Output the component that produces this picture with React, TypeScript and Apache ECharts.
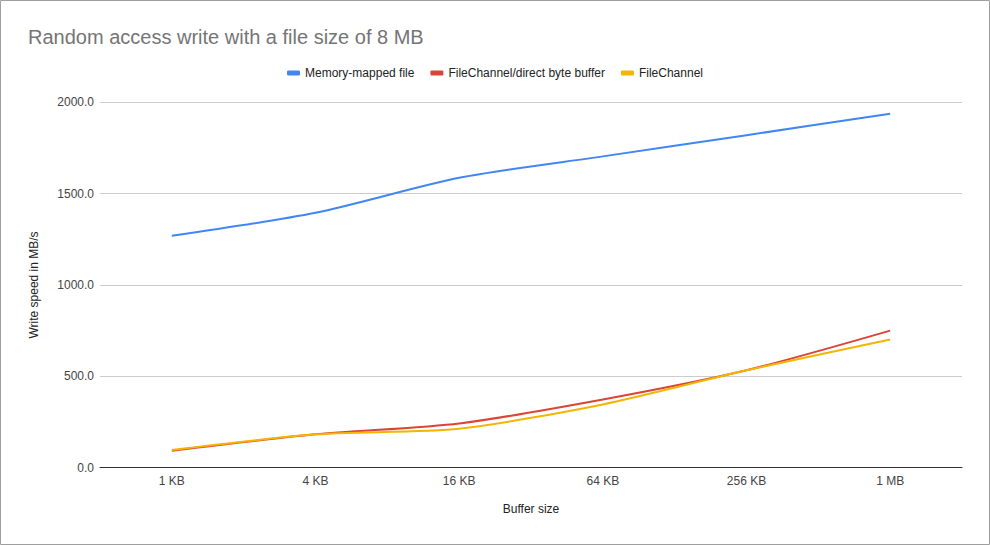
import React, { useEffect, useRef } from "react";
import * as echarts from "echarts";

const categories = ["1 KB", "4 KB", "16 KB", "64 KB", "256 KB", "1 MB"];
const memoryMapped = [1269, 1395, 1587, 1704, 1820, 1937];
const fileChannelDirect = [92, 182, 242, 373, 533, 750];
const fileChannel = [97, 182, 213, 346, 533, 701];
const seriesNames = ["Memory-mapped file", "FileChannel/direct byte buffer", "FileChannel"];
const seriesColors = ["#4285F4", "#DB4437", "#F4B400"];

export default function App() {
  const ref = useRef<HTMLDivElement>(null);
  useEffect(() => {
    if (!ref.current) return;
    const chart = echarts.init(ref.current, undefined, { renderer: "svg" });
    const data = [memoryMapped, fileChannelDirect, fileChannel];
    chart.setOption({
      animation: false,
      backgroundColor: "#ffffff",
      title: {
        text: "Random access write with a file size of 8 MB",
        left: 28,
        top: 27,
        padding: 0,
        textStyle: { fontFamily: "Liberation Sans, Arial", fontSize: 20, fontWeight: "normal", color: "#757575" },
      },
      legend: {
        top: 62,
        left: "center",
        itemWidth: 13,
        itemHeight: 5,
        itemGap: 16,
        icon: "roundRect",
        textStyle: { fontFamily: "Liberation Sans, Arial", fontSize: 12, color: "#222" },
        data: seriesNames,
      },
      grid: { left: 100, right: 28, top: 102.3, bottom: 77.4, containLabel: false },
      xAxis: {
        type: "category",
        data: categories,
        boundaryGap: true,
        name: "Buffer size",
        nameLocation: "middle",
        nameGap: 35,
        nameTextStyle: { fontFamily: "Liberation Sans, Arial", fontSize: 12, color: "#222" },
        axisLine: { lineStyle: { color: "#333", width: 1 } },
        axisTick: { show: false },
        axisLabel: { fontFamily: "Liberation Sans, Arial", fontSize: 12, color: "#444", margin: 7 },
      },
      yAxis: {
        type: "value",
        min: 0,
        max: 2000,
        interval: 500,
        name: "Write speed in MB/s",
        nameLocation: "middle",
        nameGap: 60,
        nameTextStyle: { fontFamily: "Liberation Sans, Arial", fontSize: 12, color: "#222" },
        axisLine: { show: false },
        axisTick: { show: false },
        splitLine: { lineStyle: { color: "#cccccc", width: 1 } },
        axisLabel: {
          fontFamily: "Liberation Sans, Arial",
          fontSize: 12,
          color: "#444",
          margin: 6,
          formatter: (v: number) => v.toFixed(1),
        },
      },
      series: seriesNames.map((name, i) => ({
        name,
        type: "line",
        data: data[i],
        smooth: 0.25,
        showSymbol: false,
        symbol: "none",
        lineStyle: { color: seriesColors[i], width: 2 },
        itemStyle: { color: seriesColors[i] },
      })),
      graphic: [
        {
          type: "rect",
          shape: { x: 0.5, y: 0.5, width: 989, height: 544 },
          style: { fill: "none", stroke: "#9e9e9e", lineWidth: 1 },
          silent: true,
        },
      ],
    });
    return () => chart.dispose();
  }, []);
  return (
    <div
      ref={ref}
      style={{ position: "absolute", left: 0, top: 0, width: 990, height: 545 }}
    />
  );
}
